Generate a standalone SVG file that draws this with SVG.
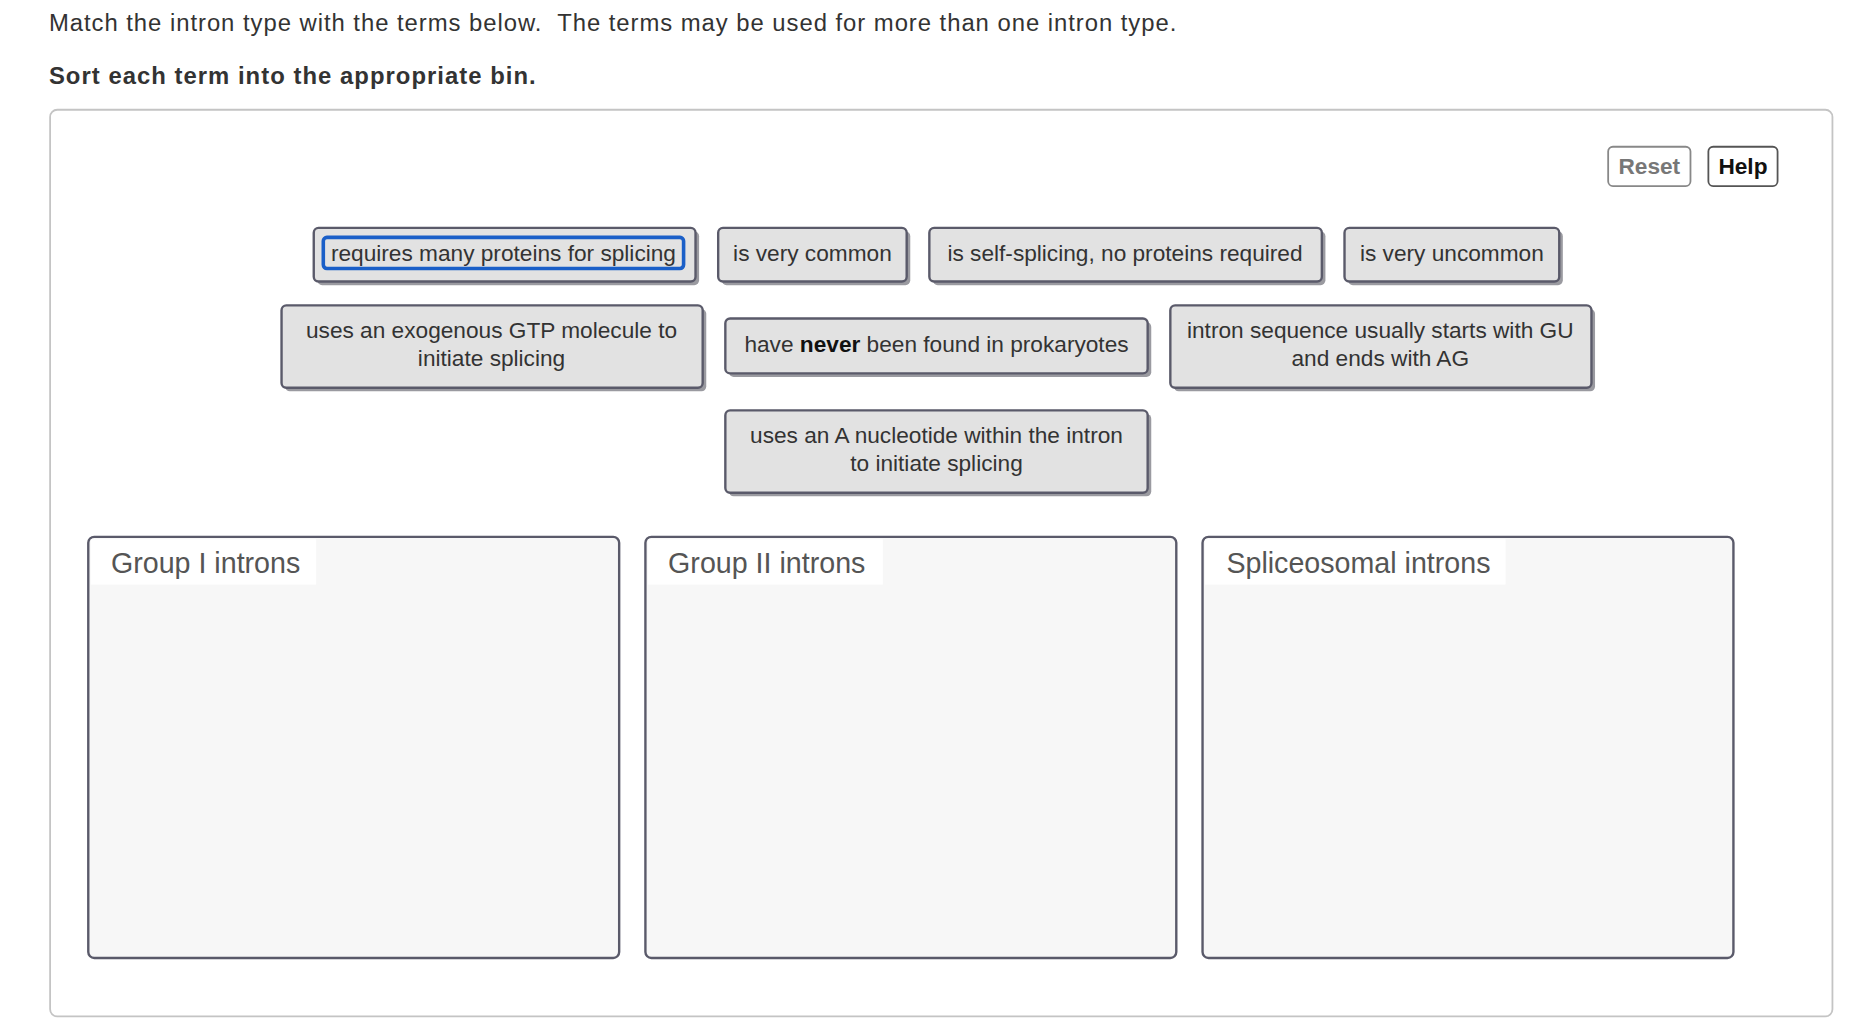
<svg xmlns="http://www.w3.org/2000/svg" width="1870" height="1026" viewBox="0 0 1870 1026">
<defs>
<style>
text{font-family:"Liberation Sans",Arial,sans-serif;fill:#333}
.chip rect.b{fill:#e2e2e2;stroke:#5a5a6a;stroke-width:2}
.chip rect.s{fill:#9a9aa0}
.chip text{font-size:19px;text-anchor:middle}
.bin rect.b{fill:#f7f7f7;stroke:#5a5a6a;stroke-width:2}
.bin rect.h{fill:#fff}
.bin text{font-size:24px;fill:#555}
</style>
</defs>
<rect width="1870" height="1026" fill="#fff"/>
<g transform="scale(1.193)">
<text x="41" y="26" font-size="20" textLength="945" xml:space="preserve">Match the intron type with the terms below.  The terms may be used for more than one intron type.</text>
<text x="41" y="70" font-size="20" font-weight="bold" textLength="408">Sort each term into the appropriate bin.</text>
<rect x="42" y="92" width="1494" height="760" rx="6" fill="#fff" stroke="#c4c4c4" stroke-width="1.5"/>
<g id="reset"><rect x="1348" y="123" width="69" height="33" rx="4" fill="#fff" stroke="#888" stroke-width="1.5"/><text x="1382.5" y="146" font-size="19" font-weight="bold" text-anchor="middle" style="fill:#777">Reset</text></g>
<g id="help"><rect x="1432" y="123" width="58" height="33" rx="4" fill="#fff" stroke="#555" stroke-width="1.5"/><text x="1461" y="146" font-size="19" font-weight="bold" text-anchor="middle" style="fill:#111">Help</text></g>

<g id="chip1" class="chip"><rect class="s" x="266" y="194" width="320" height="45" rx="4"/><rect class="b" x="263" y="191" width="320" height="45" rx="4"/><rect x="271" y="199" width="302" height="26" rx="3" fill="none" stroke="#1a5fc8" stroke-width="3"/><text x="422" y="219">requires many proteins for splicing</text></g>
<g id="chip2" class="chip"><rect class="s" x="605" y="194" width="158" height="45" rx="4"/><rect class="b" x="602" y="191" width="158" height="45" rx="4"/><text x="681" y="219">is very common</text></g>
<g id="chip3" class="chip"><rect class="s" x="782" y="194" width="329" height="45" rx="4"/><rect class="b" x="779" y="191" width="329" height="45" rx="4"/><text x="943" y="219">is self-splicing, no proteins required</text></g>
<g id="chip4" class="chip"><rect class="s" x="1130" y="194" width="180" height="45" rx="4"/><rect class="b" x="1127" y="191" width="180" height="45" rx="4"/><text x="1217" y="219">is very uncommon</text></g>
<g id="chip5" class="chip"><rect class="s" x="239" y="259" width="353" height="69" rx="4"/><rect class="b" x="236" y="256" width="353" height="69" rx="4"/><text x="412" y="283">uses an exogenous GTP molecule to</text><text x="412" y="307">initiate splicing</text></g>
<g id="chip6" class="chip"><rect class="s" x="611" y="270" width="354" height="46" rx="4"/><rect class="b" x="608" y="267" width="354" height="46" rx="4"/><text x="785" y="295">have <tspan font-weight="bold" style="fill:#111">never</tspan> been found in prokaryotes</text></g>
<g id="chip7" class="chip"><rect class="s" x="984" y="259" width="353" height="69" rx="4"/><rect class="b" x="981" y="256" width="353" height="69" rx="4"/><text x="1157" y="283">intron sequence usually starts with GU</text><text x="1157" y="307">and ends with AG</text></g>
<g id="chip8" class="chip"><rect class="s" x="611" y="347" width="354" height="69" rx="4"/><rect class="b" x="608" y="344" width="354" height="69" rx="4"/><text x="785" y="371">uses an A nucleotide within the intron</text><text x="785" y="395">to initiate splicing</text></g>

<g id="bin1" class="bin"><rect class="b" x="74" y="450" width="445" height="353" rx="5"/><rect class="h" x="76" y="452" width="189" height="38"/><text x="93" y="480">Group I introns</text></g>
<g id="bin2" class="bin"><rect class="b" x="541" y="450" width="445" height="353" rx="5"/><rect class="h" x="543" y="452" width="197" height="38"/><text x="560" y="480">Group II introns</text></g>
<g id="bin3" class="bin"><rect class="b" x="1008" y="450" width="445" height="353" rx="5"/><rect class="h" x="1010" y="452" width="252" height="38"/><text x="1028" y="480">Spliceosomal introns</text></g>
<g id="connectors"/>
</g>
</svg>
